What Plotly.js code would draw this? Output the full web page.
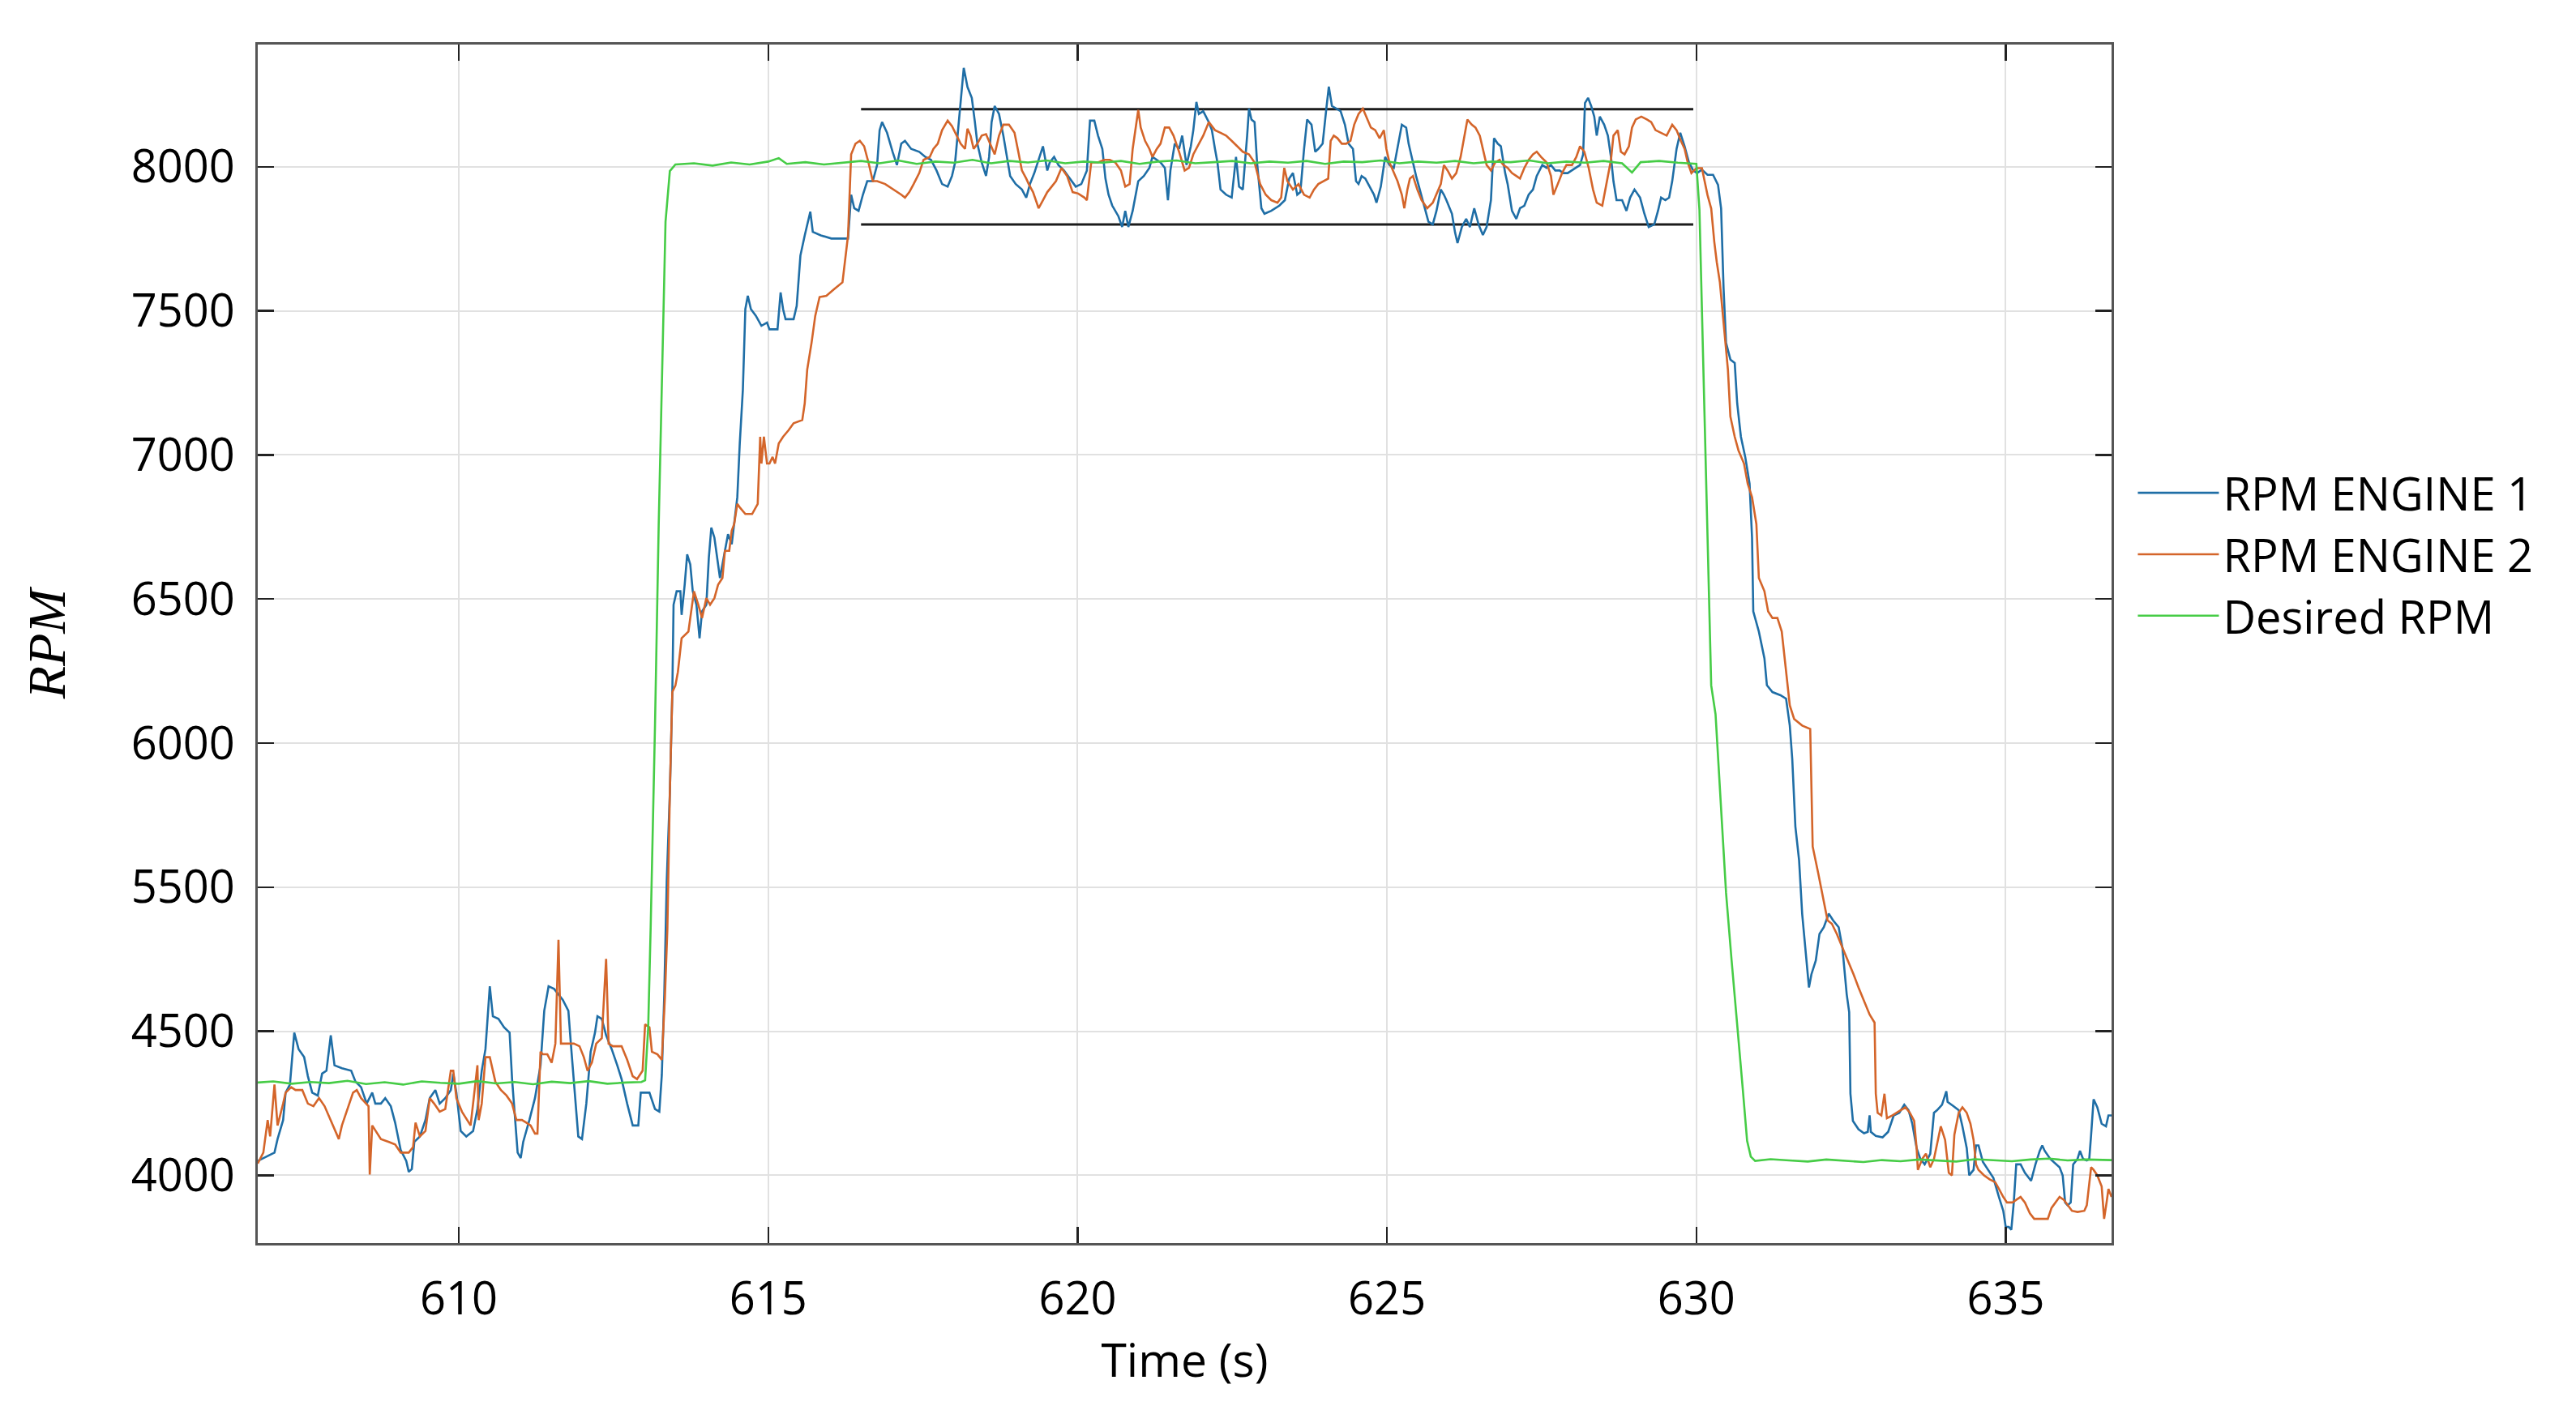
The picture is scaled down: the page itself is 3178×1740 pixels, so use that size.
<!DOCTYPE html>
<html>
<head>
<meta charset="utf-8">
<script src="https://cdn.plot.ly/plotly-3.0.1.min.js"></script>
<style>html,body{margin:0;padding:0;background:#fff;}#chart{width:3178px;height:1740px;}</style>
</head>
<body>
<div id="chart"></div>
<script>
// ---- Data ----
const timeEngine1 = [
606.75,607.02,607.07,607.16,607.20,607.27,607.34,607.41,607.50,607.56,607.63,607.72,607.79,607.86,607.93,607.99,608.11,608.26,608.33,608.42,
608.51,608.60,608.65,608.74,608.81,608.90,608.97,609.06,609.15,609.19,609.24,609.28,609.37,609.46,609.53,609.62,609.69,609.78,609.87,609.91,
609.96,610.03,610.12,610.23,610.30,610.37,610.43,610.47,610.50,610.55,610.64,610.73,610.82,610.86,610.91,610.95,611.00,611.04,611.14,611.23,
611.32,611.38,611.45,611.54,611.68,611.77,611.81,611.86,611.93,611.99,612.06,612.13,612.20,612.24,612.31,612.38,612.47,612.56,612.63,612.72,
612.81,612.90,612.94,613.08,613.17,613.24,
613.28,613.32,613.36,613.41,613.45,613.47,613.52,613.58,613.60,613.65,613.69,613.74,613.78,613.84,613.89,613.93,614.00,614.04,614.08,614.13,
614.17,614.22,614.30,614.35,614.41,614.45,614.50,614.54,614.59,614.63,614.67,614.72,614.80,614.89,614.98,615.02,615.15,615.20,615.24,615.28,
615.41,615.46,615.52,615.59,615.68,615.72,615.85,616.02,616.29,
616.34,616.39,616.46,616.53,616.60,616.69,616.76,616.80,616.84,616.92,617.01,617.08,617.15,617.21,617.31,617.44,617.54,617.63,617.72,617.81,
617.90,617.97,618.02,618.06,618.11,618.16,618.22,618.29,618.34,618.38,618.45,618.52,618.57,618.61,618.66,618.73,618.80,618.87,618.91,619.00,
619.10,619.17,619.23,619.30,619.37,619.44,619.51,619.55,619.62,619.69,619.78,619.88,619.97,620.06,620.15,620.20,620.27,620.33,620.40,620.45,
620.50,620.56,620.66,620.72,620.77,620.82,620.89,620.98,621.07,621.16,621.21,621.28,621.34,621.41,621.46,621.50,621.57,621.64,621.69,621.76,
621.83,621.87,621.92,621.96,622.03,622.12,622.17,622.22,622.26,622.31,622.40,622.49,622.56,622.61,622.67,622.74,622.77,622.81,622.86,622.90,
622.97,623.02,623.13,
623.26,623.35,623.42,623.48,623.55,623.60,623.66,623.71,623.78,623.84,623.89,623.96,624.02,624.06,624.11,624.18,624.25,624.32,624.38,624.45,
624.50,624.54,624.59,624.65,624.72,624.79,624.83,624.90,624.97,625.04,625.11,625.17,625.24,625.31,625.35,625.42,625.47,625.53,625.60,625.67,
625.74,625.80,625.87,625.92,625.96,626.05,626.10,626.14,626.21,626.28,626.34,626.41,626.48,626.55,626.61,626.68,626.73,626.79,626.84,626.91,
626.95,627.02,627.09,627.15,627.22,627.29,627.36,627.42,627.51,627.58,627.65,627.72,627.79,627.85,627.92,627.99,628.06,628.12,628.17,628.20,
628.25,628.30,628.35,628.39,628.44,628.51,628.57,628.62,628.66,628.71,628.80,628.87,628.93,629.00,629.09,629.16,629.23,629.32,629.38,629.43,
629.50,629.56,629.61,629.68,629.74,629.81,629.88,629.95,630.01,
630.09,630.18,630.27,630.35,630.40,630.44,630.48,630.55,630.62,630.66,630.72,630.79,630.86,630.90,630.92,631.01,631.10,631.14,631.23,631.36,
631.45,631.51,631.55,631.60,631.66,631.71,631.77,631.82,631.86,631.93,631.99,632.06,632.14,632.21,632.30,632.36,632.43,632.47,
632.49,632.53,632.62,632.71,632.77,632.80,632.82,632.90,633.01,633.10,633.19,633.28,633.36,633.43,633.49,633.56,633.62,633.69,633.78,633.84,
633.89,633.97,634.04,634.06,634.15,634.24,634.30,634.37,634.41,634.48,634.52,634.56,634.63,634.72,634.80,634.89,634.96,635.00,635.05,635.09,
635.13,635.17,635.24,635.31,635.37,635.41,635.48,635.55,635.59,635.63,635.72,635.81,635.87,635.92,635.96,636.00,636.05,636.09,636.16,636.20,
636.25,636.31,636.35,636.38,636.42,636.48,636.55,636.62,636.66,636.71
];
const rpmEngine1 = [
4550,4579,4626,4692,4787,4815,4995,4938,4910,4844,4787,4777,4853,4863,4986,4882,4872,4863,4825,4806,
4749,4787,4749,4749,4768,4740,4683,4588,4550,4512,4522,4616,4635,4692,4768,4796,4749,4768,4796,4853,
4787,4654,4635,4654,4730,4863,4938,5052,5156,5052,5043,5014,4995,4834,4692,4579,4560,4616,4692,4768,
4882,5071,5156,5147,5109,5071,4957,4825,4635,4626,4749,4929,4995,5052,5043,4986,4938,4882,4834,4749,
4673,4673,4787,4787,4730,4721,
4848,5128,5524,5827,6177,6480,6527,6527,6445,6550,6655,6620,6527,6480,6364,6457,6480,6643,6748,6713,
6643,6573,6667,6725,6690,6760,6853,7040,7226,7506,7552,7506,7483,7448,7459,7436,7436,7564,7506,7471,
7471,7517,7692,7762,7844,7774,7762,7751,7751,
7903,7856,7847,7903,7950,7950,8006,8127,8155,8118,8052,8006,8080,8090,8062,8052,8034,8024,7987,7940,
7931,7968,8015,8108,8221,8343,8277,8239,8155,8080,8015,7968,8034,8155,8211,8183,8108,8024,7968,7940,
7921,7893,7940,7978,8024,8071,7987,8015,8034,8006,7987,7959,7931,7940,7987,8160,8160,8108,8062,7959,
7903,7865,7828,7791,7847,7791,7847,7950,7968,7996,8034,8024,8015,7996,7884,7987,8080,8062,8108,8006,
8071,8127,8225,8183,8193,8155,8127,8062,8015,7921,7903,7893,8034,7931,7921,8108,8202,8164,8155,8015,
7856,7837,7847,
7865,7884,7959,7978,7903,7912,8062,8164,8146,8052,8062,8080,8202,8278,8211,8202,8193,8146,8080,8062,
7950,7940,7968,7959,7931,7903,7875,7931,8034,8006,7996,8062,8146,8136,8080,8015,7968,7921,7865,7809,
7800,7847,7921,7903,7884,7837,7772,7735,7791,7819,7791,7856,7800,7763,7791,7884,8099,8080,8071,7978,
7940,7847,7819,7856,7865,7903,7921,7968,8006,7996,8006,7987,7987,7978,7978,7987,7996,8006,8043,8221,
8239,8211,8174,8108,8174,8146,8108,8034,7950,7884,7884,7847,7893,7921,7893,7837,7791,7800,7847,7893,
7884,7893,7950,8062,8118,8071,8015,7987,7978,
7990,7972,7972,7937,7855,7576,7389,7331,7319,7179,7063,6993,6900,6713,6457,6387,6294,6201,6177,6166,
6154,6061,5944,5711,5594,5408,5268,5152,5198,5245,5338,5361,5408,5385,5361,5291,5128,5066,
4783,4689,4660,4646,4651,4708,4651,4637,4632,4651,4708,4717,4745,4726,4679,4594,4557,4538,4575,4717,
4726,4745,4792,4755,4741,4726,4670,4594,4500,4519,4604,4604,4547,4519,4491,4425,4377,4321,4321,4311,
4406,4538,4538,4509,4491,4481,4538,4585,4604,4585,4557,4538,4528,4500,4406,4396,4406,4538,4557,4585,
4557,4552,4557,4641,4764,4736,4679,4670,4708,4708
];

const timeEngine2 = [
606.75,606.84,606.91,606.95,607.02,607.07,607.16,607.20,607.29,607.36,607.47,607.56,607.65,607.74,607.83,607.93,608.06,608.11,608.20,608.29,
608.35,608.42,608.54,608.56,608.60,608.69,608.74,608.87,608.97,609.06,609.19,609.26,609.30,609.37,609.46,609.53,609.60,609.69,609.78,609.87,
609.91,609.96,610.05,610.19,610.25,610.30,610.32,610.37,610.43,610.50,610.59,610.68,610.77,610.86,610.93,611.02,611.09,611.16,611.23,611.27,
611.32,611.36,611.43,611.50,611.56,611.61,611.65,611.72,611.86,611.95,612.02,612.08,612.15,612.22,612.31,612.38,612.42,612.49,612.63,612.72,
612.81,612.88,612.97,613.01,613.08,613.12,613.21,613.28,613.33,613.37,
613.41,613.45,613.50,613.54,613.60,613.71,613.80,613.87,613.93,614.00,614.06,614.13,614.19,614.26,614.30,614.37,614.41,614.45,614.50,614.54,
614.63,614.74,614.83,614.87,614.89,614.93,614.98,615.02,615.07,615.11,615.17,615.24,615.33,615.41,615.55,615.59,615.63,615.70,615.76,615.83,
615.94,616.07,616.20,616.29,
616.34,616.41,616.48,616.55,616.62,616.69,616.76,616.89,617.03,617.15,617.21,617.28,617.35,617.44,617.51,617.61,617.67,617.74,617.81,617.90,
617.97,618.04,618.11,618.18,618.22,618.27,618.32,618.38,618.45,618.52,618.59,618.66,618.73,618.80,618.89,618.98,619.05,619.10,619.17,619.21,
619.28,619.37,619.44,619.51,619.58,619.65,619.74,619.83,619.92,620.01,620.11,620.15,620.22,620.33,620.43,620.52,620.61,620.70,620.77,620.84,
620.89,620.93,620.98,621.02,621.09,621.16,621.21,621.28,621.34,621.41,621.48,621.55,621.64,621.73,621.80,621.87,621.94,622.03,622.12,622.22,
622.31,622.40,622.49,622.58,622.67,622.77,622.86,622.95,623.04,623.13,623.23,623.29,623.34,
623.39,623.48,623.57,623.66,623.75,623.82,623.89,623.98,624.05,624.09,624.14,624.20,624.27,624.34,624.41,624.47,624.54,624.61,624.68,624.74,
624.81,624.88,624.95,624.99,625.04,625.11,625.17,625.24,625.28,625.33,625.37,625.42,625.49,625.56,625.65,625.74,625.80,625.87,625.92,625.98,
626.05,626.12,626.19,626.25,626.30,626.37,626.43,626.50,626.55,626.61,626.68,626.75,626.82,626.88,626.95,627.02,627.09,627.15,627.22,627.29,
627.36,627.42,627.49,627.58,627.65,627.69,627.76,627.83,627.90,627.99,628.06,628.12,628.19,628.26,628.33,628.39,628.48,628.55,628.62,628.66,
628.73,628.78,628.84,628.91,628.96,629.02,629.11,629.20,629.27,629.34,629.43,629.52,629.61,629.68,629.75,629.81,629.86,629.92,
630.00,630.09,630.18,630.24,630.29,630.33,630.38,630.44,630.51,630.55,630.62,630.68,630.77,630.83,630.90,630.97,631.01,631.10,631.16,631.23,
631.31,631.38,631.45,631.51,631.58,631.71,631.84,631.86,631.88,631.97,632.06,632.12,632.19,632.27,632.36,632.45,632.54,632.62,632.71,632.80,
632.88,632.90,
632.93,632.99,633.04,633.08,633.17,633.23,633.30,633.38,633.45,633.52,633.56,633.58,633.65,633.71,633.78,633.84,633.89,633.95,634.02,634.08,
634.13,634.17,634.24,634.30,634.37,634.43,634.48,634.52,634.56,634.65,634.74,634.83,634.89,634.96,635.02,635.11,635.17,635.24,635.31,635.39,
635.46,635.55,635.68,635.74,635.81,635.87,635.94,636.00,636.07,636.16,636.27,636.31,636.38,636.42,636.48,636.55,636.59,636.63,636.66,636.71
];
const rpmEngine2 = [
4541,4579,4692,4635,4815,4673,4749,4787,4806,4796,4796,4749,4740,4768,4740,4692,4626,4673,4730,4787,
4796,4768,4740,4503,4673,4645,4626,4616,4607,4579,4579,4598,4683,4635,4654,4768,4749,4721,4730,4863,
4863,4768,4721,4673,4787,4882,4692,4749,4910,4910,4825,4796,4777,4749,4692,4692,4683,4673,4645,4645,
4929,4920,4920,4891,4957,5317,4957,4957,4957,4948,4910,4863,4891,4957,4976,5251,4957,4948,4948,4901,
4844,4834,4863,5024,5014,4929,4920,4901,5118,5355,
5827,6177,6200,6247,6364,6387,6527,6480,6434,6503,6480,6503,6550,6573,6667,6667,6737,6760,6830,6818,
6795,6795,6830,7063,6970,7063,6970,6970,6993,6970,7040,7063,7086,7110,7121,7179,7296,7389,7483,7548,
7552,7576,7599,7762,
8043,8080,8090,8071,8015,7950,7950,7940,7921,7903,7893,7912,7940,7978,8024,8034,8062,8080,8127,8160,
8141,8108,8080,8062,8132,8108,8062,8080,8108,8113,8080,8043,8108,8146,8146,8118,8043,7987,7959,7940,
7912,7856,7884,7912,7931,7950,7996,7968,7912,7907,7893,7884,8015,8015,8024,8024,8015,7987,7931,7940,
8062,8127,8197,8136,8090,8062,8034,8062,8080,8136,8136,8108,8052,7987,7996,8043,8071,8108,8155,8127,
8118,8108,8090,8071,8052,8043,8015,7940,7903,7884,7875,7893,7996,
7950,7921,7940,7903,7893,7921,7940,7950,7959,8090,8108,8099,8080,8080,8090,8146,8183,8202,8164,8136,
8127,8099,8127,8062,8015,7978,7950,7903,7856,7921,7959,7968,7921,7884,7856,7875,7903,7940,8006,7987,
7959,7978,8034,8108,8164,8146,8136,8108,8062,8006,7987,8015,8024,8006,7996,7978,7968,7959,7996,8024,
8043,8052,8034,8015,7968,7903,7940,7978,8006,8006,8034,8071,8052,7996,7921,7875,7865,7940,8024,8108,
8127,8052,8043,8071,8136,8164,8174,8164,8155,8127,8118,8108,8146,8127,8090,8062,8015,7978,
7995,7995,7902,7855,7739,7669,7599,7459,7296,7133,7063,7016,6970,6900,6853,6760,6573,6527,6457,6434,
6434,6387,6247,6131,6084,6061,6049,5827,5641,5548,5455,5385,5373,5338,5291,5245,5198,5152,5105,5058,
5030,4783,
4717,4708,4783,4698,4708,4717,4726,4736,4717,4689,4594,4519,4557,4575,4528,4557,4613,4670,4623,4509,
4500,4641,4717,4736,4717,4679,4623,4538,4519,4500,4486,4476,4453,4425,4406,4406,4415,4425,4406,4368,
4349,4349,4349,4387,4406,4425,4415,4396,4377,4373,4377,4396,4528,4519,4500,4462,4349,4406,4453,4425
];

const timeDesired = [
606.75,607.00,607.30,607.60,607.90,608.20,608.50,608.80,609.10,609.40,609.70,610.00,610.30,610.60,610.90,611.20,611.50,611.80,612.10,612.40,
612.70,612.95,613.01,613.06,613.10,613.17,613.23,613.30,613.34,613.41,613.50,613.80,614.10,614.40,614.70,615.00,615.17,615.30,615.60,615.90,
616.20,616.50,616.80,617.10,617.40,617.70,618.00,618.30,618.60,618.90,619.20,619.50,619.80,620.10,620.40,620.70,621.00,621.30,621.60,621.90,
622.20,622.50,622.80,623.10,623.40,623.70,624.00,624.30,624.60,624.90,625.20,625.50,625.80,626.10,626.40,626.70,627.00,627.30,627.60,627.90,
628.20,628.50,628.80,628.96,629.10,629.40,629.70,629.95,
630.00,630.05,630.09,630.13,630.18,630.24,630.31,630.40,630.48,630.57,630.66,630.75,630.82,630.88,630.95,
631.20,631.50,631.80,632.10,632.40,632.70,633.00,633.30,633.60,633.90,634.20,634.50,634.80,635.10,635.40,635.70,636.00,636.30,636.71
];
const rpmDesired = [
4822,4826,4818,4824,4820,4828,4817,4823,4815,4826,4821,4818,4827,4819,4824,4816,4825,4820,4827,4818,
4822,4824,4830,5012,5361,6061,6760,7459,7809,7985,8008,8012,8004,8015,8008,8018,8030,8010,8016,8008,
8014,8020,8012,8022,8010,8018,8014,8024,8012,8020,8015,8022,8012,8018,8014,8020,8010,8018,8022,8012,
8016,8020,8012,8018,8014,8020,8010,8018,8016,8022,8012,8018,8014,8020,8012,8018,8016,8022,8012,8018,
8014,8020,8012,7980,8016,8020,8014,8012,
8010,7850,7500,7100,6650,6200,6100,5780,5480,5245,5010,4800,4620,4565,4550,
4556,4552,4548,4555,4550,4546,4553,4549,4555,4551,4548,4556,4552,4549,4555,4558,4552,4555,4553
];

// tolerance band drawn in the reference (upper / lower limits)
const bandTime = [616.5, 629.95];
const bandUpper = [8200, 8200];
const bandLower = [7800, 7800];

const xTickVals = [610, 615, 620, 625, 630, 635];
const yTickVals = [4500, 5000, 5500, 6000, 6500, 7000, 7500, 8000];
const yTickText = ['4000', '4500', '5500', '6000', '6500', '7000', '7500', '8000'];

const seriesNames = ['RPM ENGINE 1', 'RPM ENGINE 2', 'Desired RPM'];
const seriesColors = ['#1f6ea6', '#d4652a', '#46cc46'];

// ---- Traces ----
const traces = [
  {x: bandTime, y: bandUpper, mode: 'lines', line: {color: '#1c1c1c', width: 3}, showlegend: false, hoverinfo: 'skip'},
  {x: bandTime, y: bandLower, mode: 'lines', line: {color: '#1c1c1c', width: 3}, showlegend: false, hoverinfo: 'skip'},
  {x: timeEngine1, y: rpmEngine1, name: seriesNames[0], mode: 'lines', line: {color: seriesColors[0], width: 2.6}},
  {x: timeEngine2, y: rpmEngine2, name: seriesNames[1], mode: 'lines', line: {color: seriesColors[1], width: 2.6}},
  {x: timeDesired, y: rpmDesired, name: seriesNames[2], mode: 'lines', line: {color: seriesColors[2], width: 2.6}}
];

const axisCommon = {
  ticks: 'inside', ticklen: 20, tickwidth: 2.5, tickcolor: '#222',
  showgrid: true, gridcolor: '#e1e1e1', gridwidth: 2,
  showline: true, linecolor: '#555', linewidth: 3, mirror: 'ticks',
  zeroline: false,
  tickfont: {family: '"Open Sans", sans-serif', size: 56, color: '#000'}
};

const layout = {
  width: 3178, height: 1740,
  paper_bgcolor: '#ffffff', plot_bgcolor: '#ffffff',
  margin: {l: 318, r: 573, t: 55, b: 206},
  font: {family: '"Open Sans", sans-serif', color: '#000'},
  xaxis: Object.assign({}, axisCommon, {
    range: [606.75, 636.71], tickmode: 'array', tickvals: xTickVals,
    ticklabelstandoff: 18,
    title: {text: 'Time (s)', font: {family: '"Open Sans", sans-serif', size: 57, color: '#000'}, standoff: 18}
  }),
  yaxis: Object.assign({}, axisCommon, {
    range: [4265, 8424], tickmode: 'array', tickvals: yTickVals, ticktext: yTickText,
    ticklabelstandoff: 14,
    title: {text: '<i>RPM</i>', font: {family: '"Liberation Serif", "Times New Roman", serif', size: 66, color: '#000'}, standoff: 60}
  }),
  showlegend: true,
  legend: {
    x: 1.012, xanchor: 'left', y: 0.655, yanchor: 'top',
    font: {family: '"Open Sans", sans-serif', size: 56, color: '#000'},
    bgcolor: 'rgba(0,0,0,0)', borderwidth: 0, itemwidth: 100, tracegroupgap: 0
  }
};

Plotly.newPlot('chart', traces, layout, {staticPlot: true, displayModeBar: false});
</script>
</body>
</html>
